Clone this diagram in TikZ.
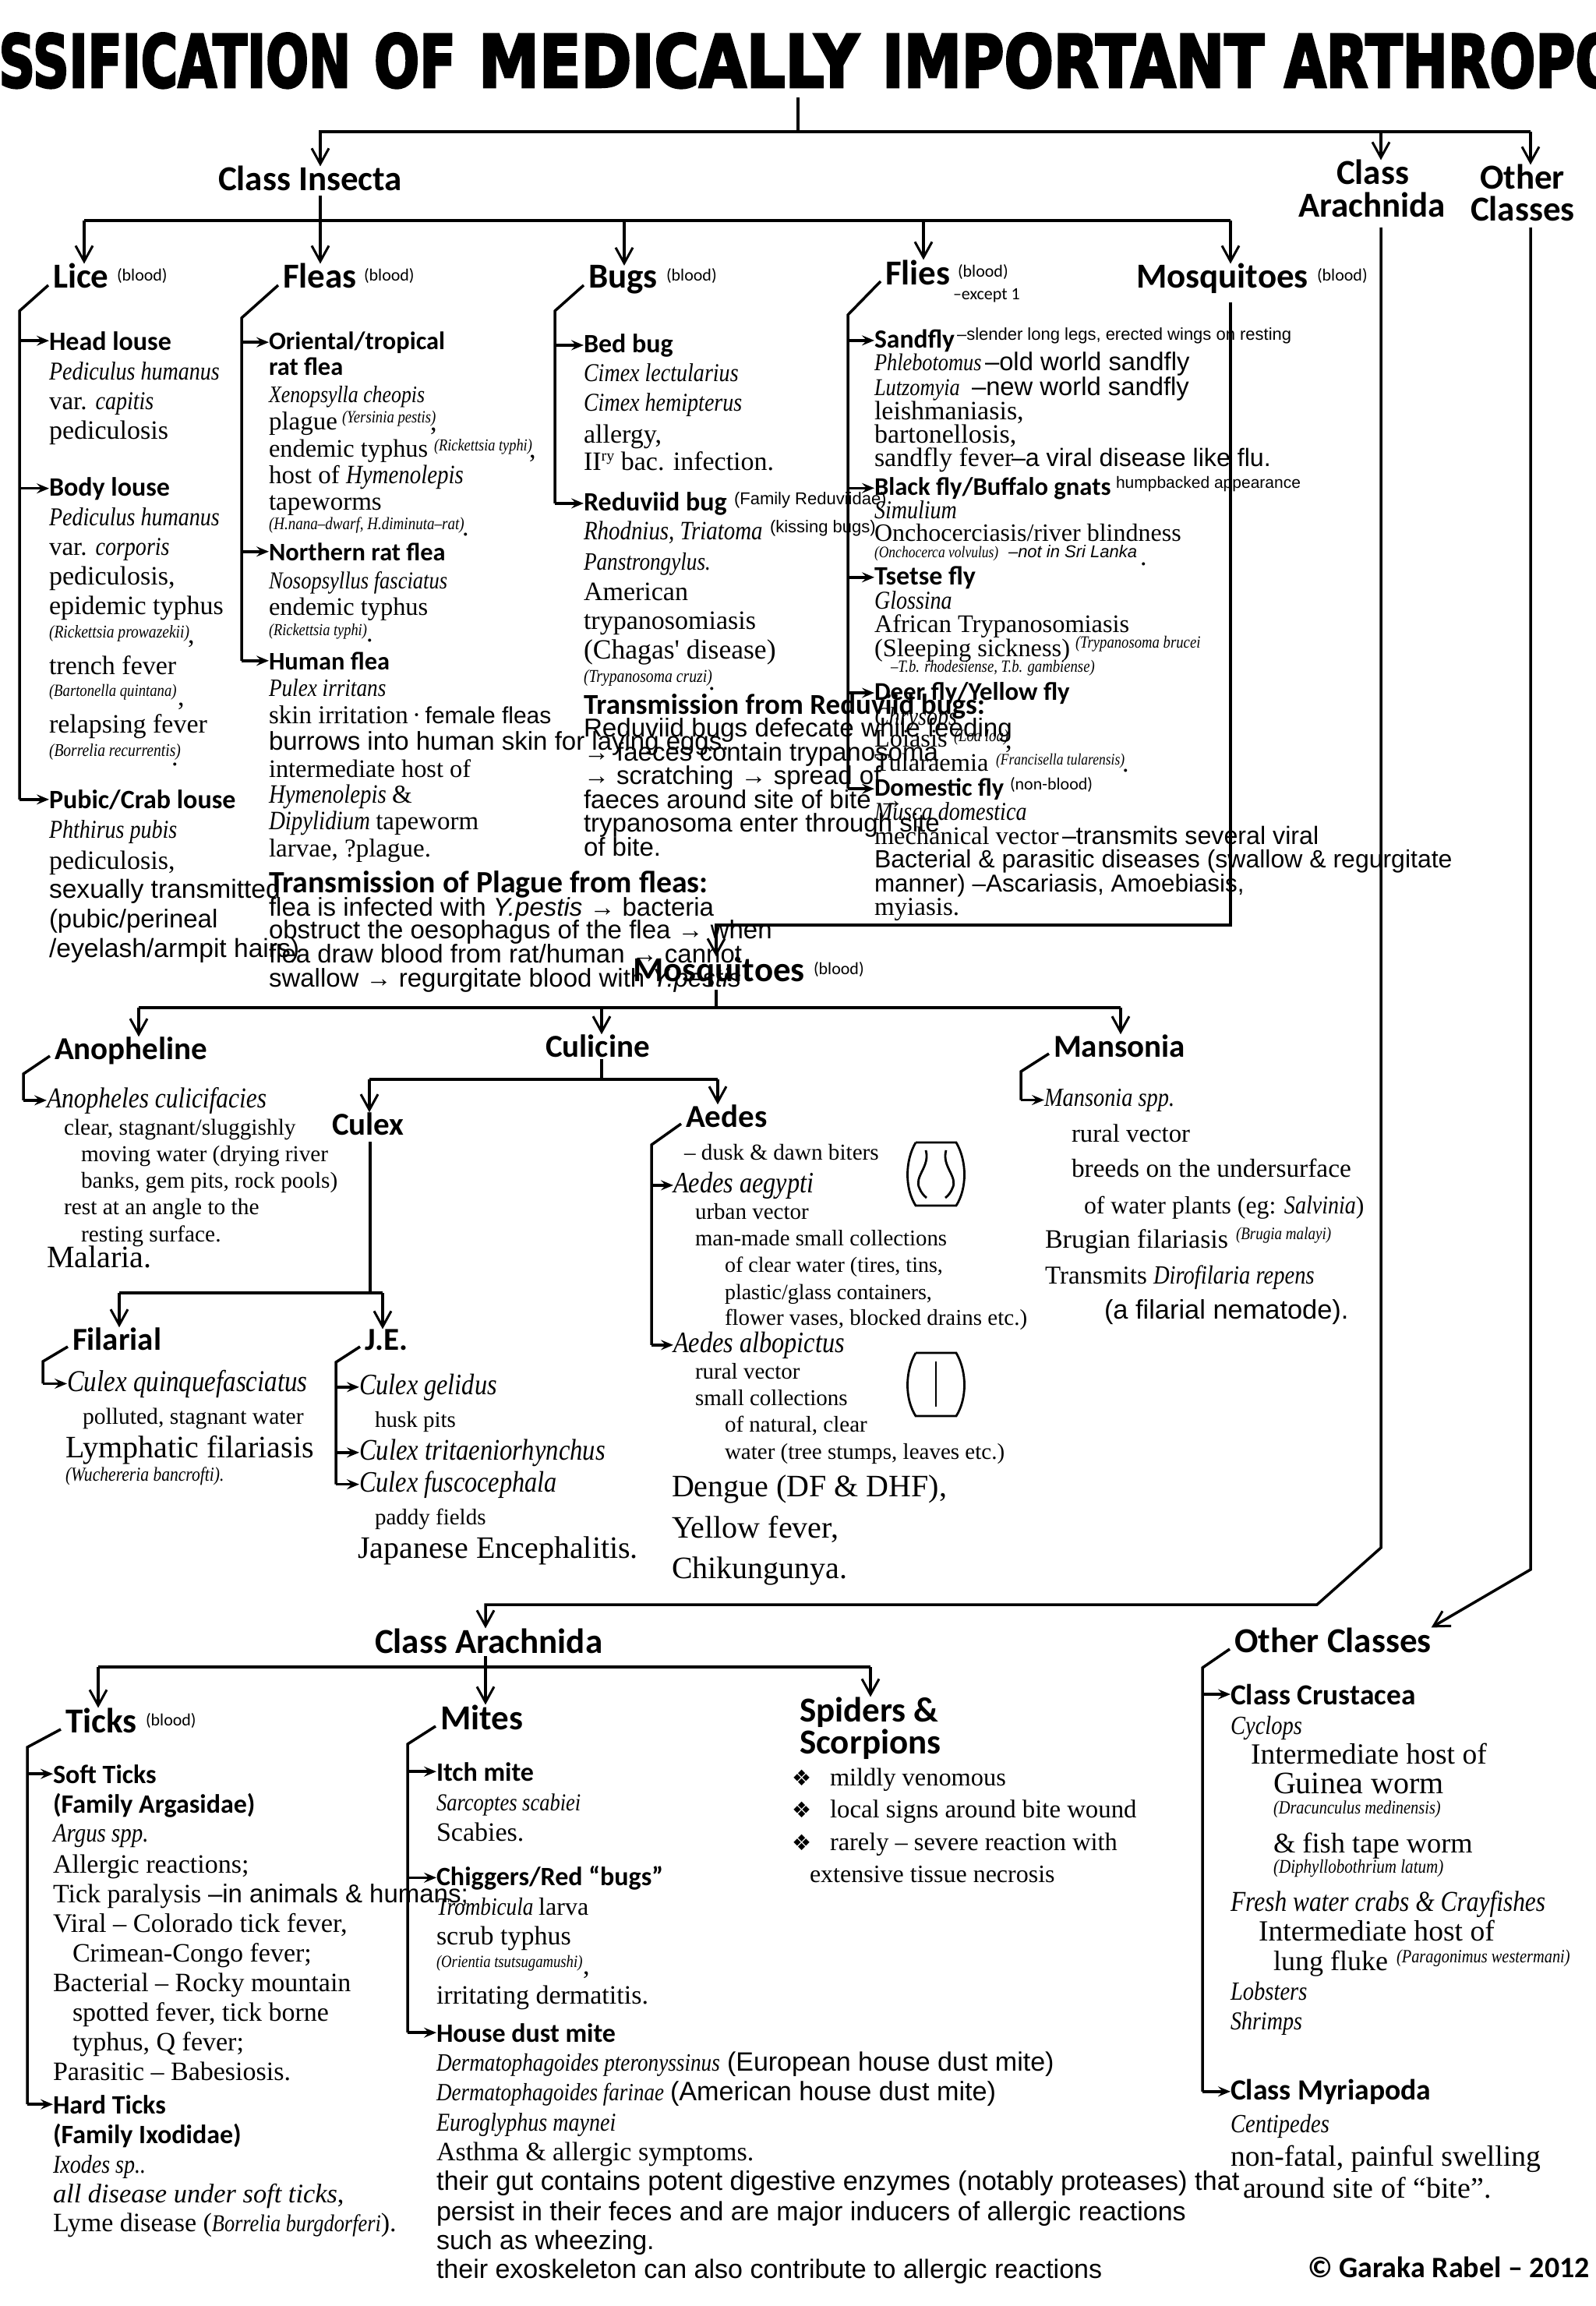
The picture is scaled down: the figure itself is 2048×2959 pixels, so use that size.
\documentclass[tikz,border=0pt]{standalone}
\usepackage{graphicx}
\usepackage{fontspec}
\usetikzlibrary{arrows.meta}
\setmainfont{Liberation Serif}
\newfontfamily\tmf{Liberation Serif}
\newfontfamily\gmf{Liberation Serif}[FakeStretch=.85]
\newfontfamily\saf{Liberation Sans}
\newfontfamily\cbf{Carlito}
\newfontfamily\dvf{DejaVu Sans}
\newfontfamily\ttlf{DejaVu Sans}[BoldFeatures={FakeBold=3.5}]
\newcommand\Tm[1]{\tmf\upshape\fontsize{#1}{#1}\selectfont}
\newcommand\Gi[1]{\gmf\itshape\fontsize{#1}{#1}\selectfont}
\newcommand\Sa[1]{\saf\upshape\fontsize{#1}{#1}\selectfont}
\newcommand\Cb[1]{\cbf\bfseries\upshape\fontsize{#1}{#1}\selectfont}
\newcommand\Cr[1]{\cbf\mdseries\upshape\fontsize{#1}{#1}\selectfont}
\newcommand\Ttl[2]{\resizebox{#1}{34.5pt}{\ttlf\bfseries #2}}
\newcount\tnum
\newcommand\tx[3]{\global\advance\tnum by 1 \node[txt] (t\the\tnum) at (#1,#2) {#3};}
\newcommand\nd[4]{\node[txt] (#1) at (#2,#3) {#4};}
\newcommand\branch[5]{%
  \draw[ln] ([shift={(-3pt,2pt)}]#1.base west) -- (#2,#3) -- (#2,0 |- #4.west);
  \foreach \i in {#5} {\draw[sarr] (#2,0 |- \i.west) -- (\i.west);}
}
\tikzset{
  txt/.style={anchor=base west,inner sep=0pt,outer sep=0pt},
  ttl/.style={anchor=south west,inner sep=0pt,outer sep=0pt},
  ln/.style={line width=1.75pt,line join=miter,black},
  arr/.style={ln,-{Straight Barb[length=10pt,width=11pt,line width=1.5pt]}},
  sarr/.style={ln,-{Stealth[length=8pt,width=6.5pt,inset=3pt]}},
  pict/.style={line width=1.4pt,black}
}
\begin{document}
\begin{tikzpicture}[x=0.5pt,y=-0.5pt]
\useasboundingbox (0,0) rectangle (2048,2959);
\clip (0,0) rectangle (2048,2959);
\node[ttl] (title1) at (-140,113) {\Ttl{295pt}{CLASSIFICATION}};
\node[ttl] (title2) at (480,113) {\Ttl{52.5pt}{OF}};
\node[ttl] (title3) at (614,113) {\Ttl{244pt}{MEDICALLY}};
\node[ttl] (title4) at (1132,113) {\Ttl{245pt}{IMPORTANT}};
\node[ttl] (title5) at (1648,113) {\Ttl{270pt}{ARTHROPODS}};
% upper headings
\nd{insecta}{280}{245}{\Cb{22.5}Class Insecta}
\nd{arach1}{1715}{237}{\Cb{22.5}Class}
\nd{arach1b}{1666}{279}{\Cb{22.5}Arachnida}
\nd{other1}{1899}{243}{\Cb{22.5}Other}
\nd{other1b}{1887}{284}{\Cb{22.5}Classes}
\nd{lice}{68}{370}{\Cb{22.5}Lice}
\tx{150}{361}{\Cr{11}(blood)}
\nd{fleas}{363}{370}{\Cb{22.5}Fleas}
\tx{467}{361}{\Cr{11}(blood)}
\nd{bugs}{755}{370}{\Cb{22.5}Bugs}
\tx{855}{361}{\Cr{11}(blood)}
\nd{flies}{1136}{365}{\Cb{22.5}Flies}
\tx{1229}{356}{\Cr{11}(blood)}
\tx{1223}{385}{\Cr{11}–except 1}
\nd{mosq}{1458}{370}{\Cb{22.5}Mosquitoes}
\tx{1690}{361}{\Cr{11}(blood)}
% Lice
\nd{head}{63}{449}{\Cb{17}Head louse}
\tx{63}{487}{\Gi{16.5}Pediculus humanus}
\tx{63}{525}{\Tm{16.5}var. \Gi{16.5}capitis}
\tx{63}{563}{\Tm{17}pediculosis}
\nd{body}{63}{636}{\Cb{17}Body louse}
\tx{63}{674}{\Gi{16.5}Pediculus humanus}
\tx{63}{712}{\Tm{16.5}var. \Gi{16.5}corporis}
\tx{63}{750}{\Tm{17}pediculosis,}
\tx{63}{788}{\Tm{17}epidemic typhus}
\tx{63}{818}{\Gi{11.5}(Rickettsia prowazekii)}
\tx{241}{825}{\Tm{17},}
\tx{63}{865}{\Tm{17}trench fever}
\tx{63}{893}{\Gi{11}(Bartonella quintana)}
\tx{228}{905}{\Tm{17},}
\tx{63}{940}{\Tm{17}relapsing fever}
\tx{63}{970}{\Gi{11.5}(Borrelia recurrentis)}
\tx{220}{982}{\Tm{17}.}
\nd{pubic}{63}{1037}{\Cb{17}Pubic/Crab louse}
\tx{63}{1075}{\Gi{16.5}Phthirus pubis}
\tx{63}{1115}{\Tm{17}pediculosis,}
\tx{63}{1152}{\Sa{16.8}sexually transmitted}
\tx{63}{1190}{\Sa{16.5}(pubic/perineal}
\tx{63}{1228}{\Sa{16.8}/eyelash/armpit hairs)}
% Fleas
\nd{orient}{345}{448}{\Cb{16.2}Oriental/tropical}
\tx{345}{481}{\Cb{16.2}rat flea}
\tx{345}{516}{\Gi{15.2}Xenopsylla cheopis}
\tx{345}{551}{\Tm{16.5}plague}
\tx{439}{542}{\Gi{11}(Yersinia pestis)}
\tx{552}{552}{\Tm{17},}
\tx{345}{586}{\Tm{16.2}endemic typhus}
\tx{557}{578}{\Gi{10.8}(Rickettsia typhi)}
\tx{679}{587}{\Tm{17},}
\tx{345}{620}{\Tm{16.5}host of \Gi{17}Hymenolepis}
\tx{345}{654}{\Tm{16.5}tapeworms}
\tx{345}{679}{\Gi{11.2}(H.nana–dwarf, H.diminuta–rat)}
\tx{593}{687}{\Tm{17}.}
\nd{north}{345}{719}{\Cb{16.2}Northern rat flea}
\tx{345}{755}{\Gi{15.6}Nosopsyllus fasciatus}
\tx{345}{789}{\Tm{16.2}endemic typhus}
\tx{345}{815}{\Gi{10.8}(Rickettsia typhi)}
\tx{470}{823}{\Tm{17}.}
\nd{human}{345}{859}{\Cb{16.2}Human flea}
\tx{345}{893}{\Gi{16}Pulex irritans}
\tx{345}{928}{\Tm{16.5}skin irritation\,·\,\Sa{15}female fleas}
\tx{345}{962}{\Sa{16.5}burrows into human skin for laying eggs.}
\tx{345}{997}{\Tm{16.2}intermediate host of}
\tx{345}{1030}{\Gi{17}Hymenolepis \Tm{16.5}\&}
\tx{345}{1064}{\Gi{17}Dipylidium \Tm{16.5}tapeworm}
\tx{345}{1099}{\Tm{16.5}larvae, ?plague.}
\tx{345}{1145}{\Cb{19.9}Transmission of Plague from fleas:}
\tx{345}{1175}{\Sa{16.5}flea is infected with \itshape Y.pestis \upshape → bacteria}
\tx{345}{1204}{\Sa{16.5}obstruct the oesophagus of the flea → when}
\tx{345}{1235}{\Sa{16.5}flea draw blood from rat/human → cannot}
\tx{345}{1266}{\Sa{16.5}swallow → regurgitate blood with \itshape Y.pestis}
% Bugs
\nd{bed}{749}{452}{\Cb{17}Bed bug}
\tx{749}{489}{\Gi{16.5}Cimex lectularius}
\tx{749}{527}{\Gi{16.5}Cimex hemipterus}
\tx{749}{568}{\Tm{17}allergy,}
\tx{749}{603}{\Tm{17}II\raisebox{6pt}{\Tm{10}ry} bac. infection.}
\nd{redu}{749}{655}{\Cb{17}Reduviid bug}
\tx{942}{647}{\Sa{11}(Family Reduviidae)}
\tx{749}{692}{\Gi{17}Rhodnius, Triatoma}
\tx{988}{683}{\Sa{11}(kissing bugs)}
\tx{749}{731}{\Gi{16}Panstrongylus.}
\tx{749}{770}{\Tm{17}American}
\tx{749}{807}{\Tm{17}trypanosomiasis}
\tx{749}{845}{\Tm{17.8}(Chagas' disease)}
\tx{749}{875}{\Gi{11.6}(Trypanosoma cruzi)}
\tx{909}{885}{\Tm{17}.}
\tx{749}{916}{\Cb{18.5}Transmission from Reduviid bugs:}
\tx{749}{945}{\Sa{16.6}Reduviid bugs defecate while feeding}
\tx{749}{976}{\Sa{16.5}→ faeces contain trypanosoma}
\tx{749}{1006}{\Sa{16.5}→ scratching → spread of}
\tx{749}{1037}{\Sa{16.5}faeces around site of bite →}
\tx{749}{1067}{\Sa{16.5}trypanosoma enter through site}
\tx{749}{1098}{\Sa{16.5}of bite.}
% Flies
\nd{sand}{1122}{446}{\Cb{16.8}Sandfly}
\tx{1228}{437}{\Sa{11}–slender long legs, erected wings on resting}
\tx{1122}{475}{\Gi{15.5}Phlebotomus}
\tx{1264}{475}{\Sa{16.4}–old world sandfly}
\tx{1122}{507}{\Gi{15.5}Lutzomyia}
\tx{1247}{507}{\Sa{16.4}–new world sandfly}
\tx{1122}{538}{\Tm{17}leishmaniasis,}
\tx{1122}{568}{\Tm{17}bartonellosis,}
\tx{1122}{598}{\Tm{17}sandfly fever}
\tx{1298}{598}{\Sa{16.1}–a viral disease like flu.}
\nd{black}{1122}{635}{\Cb{16.3}Black fly/Buffalo gnats}
\tx{1432}{626}{\Sa{10.5}humpbacked appearance}
\tx{1122}{665}{\Gi{16.5}Simulium}
\tx{1122}{694}{\Tm{16}Onchocerciasis/river blindness}
\tx{1122}{715}{\Gi{10.3}(Onchocerca volvulus)}
\tx{1294}{715}{\Sa{11}\itshape –not in Sri Lanka}
\tx{1463}{725}{\Tm{17}.}
\nd{tsetse}{1122}{750}{\Cb{17}Tsetse fly}
\tx{1122}{781}{\Gi{16.5}Glossina}
\tx{1122}{811}{\Tm{16.2}African Trypanosomiasis}
\tx{1122}{842}{\Tm{16.2}(Sleeping sickness)}
\tx{1380}{831}{\Gi{11}(Trypanosoma brucei}
\tx{1143}{862}{\Gi{11}–T.b. rhodesiense, T.b. gambiense)}
\nd{deer}{1122}{898}{\Cb{16.4}Deer fly/Yellow fly}
\tx{1122}{930}{\Gi{16.5}Chrysops}
\tx{1122}{958}{\Tm{16.2}Loiasis}
\tx{1224}{951}{\Gi{11}(Loa loa)}
\tx{1290}{960}{\Tm{17},}
\tx{1122}{989}{\Tm{16.2}Tularaemia}
\tx{1278}{981}{\Gi{10.3}(Francisella tularensis)}
\tx{1440}{990}{\Tm{17}.}
\nd{domes}{1122}{1021}{\Cb{16.2}Domestic fly}
\tx{1296}{1013}{\Cr{11}(non-blood)}
\tx{1122}{1052}{\Gi{16.5}Musca domestica}
\tx{1122}{1083}{\Tm{16.2}mechanical vector}
\tx{1363}{1083}{\Sa{16.1}–transmits several viral}
\tx{1122}{1113}{\Sa{16}Bacterial \& parasitic diseases (swallow \& regurgitate}
\tx{1122}{1144}{\Sa{15.7}manner) –Ascariasis, Amoebiasis,}
\tx{1122}{1174}{\Tm{16.5}myiasis.}
% Mosquitoes section
\nd{mosqb}{812}{1259}{\Cb{22.5}Mosquitoes}
\tx{1044}{1250}{\Cr{11}(blood)}
\nd{anoph}{70}{1359}{\Cb{20.5}Anopheline}
\nd{culicine}{700}{1356}{\Cb{20.5}Culicine}
\nd{mans}{1352}{1356}{\Cb{20.5}Mansonia}
\nd{anspec}{60}{1421}{\Gi{18.5}Anopheles culicifacies}
\tx{82}{1456}{\Tm{14.7}clear, stagnant/sluggishly}
\tx{104}{1490}{\Tm{14.6}moving water (drying river}
\tx{104}{1524}{\Tm{14.6}banks, gem pits, rock pools)}
\tx{82}{1558}{\Tm{14.7}rest at an angle to the}
\tx{104}{1593}{\Tm{14.7}resting surface.}
\tx{60}{1626}{\Tm{20}Malaria.}
\nd{culex}{426}{1456}{\Cb{20.5}Culex}
\nd{aedes}{880}{1446}{\Cb{20.5}Aedes}
\tx{878}{1488}{\Tm{14.6}– dusk \& dawn biters}
\nd{aeg}{864}{1530}{\Gi{19}Aedes aegypti}
\tx{892}{1564}{\Tm{14.5}urban vector}
\tx{892}{1598}{\Tm{14.4}man-made small collections}
\tx{930}{1632}{\Tm{14}of clear water (tires, tins,}
\tx{930}{1667}{\Tm{14}plastic/glass containers,}
\tx{930}{1700}{\Tm{14.5}flower vases, blocked drains etc.)}
\nd{albo}{864}{1735}{\Gi{19}Aedes albopictus}
\tx{892}{1769}{\Tm{14.5}rural vector}
\tx{892}{1803}{\Tm{14.5}small collections}
\tx{930}{1837}{\Tm{14.5}of natural, clear}
\tx{930}{1872}{\Tm{14.5}water (tree stumps, leaves etc.)}
\tx{862}{1920}{\Tm{20}Dengue (DF \& DHF),}
\tx{862}{1973}{\Tm{20}Yellow fever,}
\tx{862}{2025}{\Tm{20}Chikungunya.}
\nd{mspec}{1340}{1419}{\Gi{16.7}Mansonia spp.}
\tx{1375}{1465}{\Tm{16.4}rural vector}
\tx{1375}{1510}{\Tm{16.7}breeds on the undersurface}
\tx{1391}{1557}{\Tm{15.9}of water plants (eg: \Gi{16.5}Salvinia\Tm{15.9})}
\tx{1341}{1601}{\Tm{17}Brugian filariasis}
\tx{1586}{1590}{\Gi{11.2}(Brugia malayi)}
\tx{1341}{1647}{\Tm{16.5}Transmits \Gi{16.8}Dirofilaria repens}
\tx{1417}{1692}{\Sa{17.2}(a filarial nematode).}
\nd{filar}{93}{1732}{\Cb{20.5}Filarial}
\nd{je}{468}{1732}{\Cb{20.5}J.E.}
\nd{quin}{86}{1785}{\Gi{19.4}Culex quinquefasciatus}
\tx{106}{1827}{\Tm{14.8}polluted, stagnant water}
\tx{84}{1870}{\Tm{20}Lymphatic filariasis}
\tx{84}{1900}{\Gi{12.7}(Wuchereria bancrofti).}
\nd{geli}{461}{1789}{\Gi{19}Culex gelidus}
\tx{481}{1831}{\Tm{14.5}husk pits}
\nd{trit}{461}{1873}{\Gi{19.2}Culex tritaeniorhynchus}
\nd{fusc}{461}{1914}{\Gi{19}Culex fuscocephala}
\tx{481}{1956}{\Tm{14.5}paddy fields}
\tx{459}{1999}{\Tm{20}Japanese Encephalitis.}
% Arachnida
\nd{arach}{481}{2121}{\Cb{22.5}Class Arachnida}
\nd{ticks}{84}{2223}{\Cb{22.5}Ticks}
\tx{187}{2214}{\Cr{11}(blood)}
\nd{soft}{68}{2288}{\Cb{17}Soft Ticks}
\tx{68}{2326}{\Cb{17}(Family Argasidae)}
\tx{68}{2363}{\Gi{17}Argus spp.}
\tx{68}{2403}{\Tm{17}Allergic reactions;}
\tx{68}{2441}{\Tm{17}Tick paralysis}
\tx{267}{2441}{\Sa{16.5}–in animals \& humans;}
\tx{68}{2479}{\Tm{17.2}Viral – Colorado tick fever,}
\tx{93}{2517}{\Tm{17}Crimean-Congo fever;}
\tx{68}{2555}{\Tm{17}Bacterial – Rocky mountain}
\tx{93}{2593}{\Tm{17}spotted fever, tick borne}
\tx{93}{2631}{\Tm{17}typhus, Q fever;}
\tx{68}{2669}{\Tm{17}Parasitic – Babesiosis.}
\nd{hard}{68}{2712}{\Cb{17}Hard Ticks}
\tx{68}{2750}{\Cb{17}(Family Ixodidae)}
\tx{68}{2788}{\Gi{16.5}Ixodes sp..}
\tx{68}{2826}{\Tm{17.2}\itshape all disease under soft ticks\upshape,}
\tx{68}{2863}{\Tm{17}Lyme disease (\Gi{15.5}Borrelia burgdorferi\Tm{17}).}
\nd{mites}{565}{2219}{\Cb{22.5}Mites}
\nd{itch}{560}{2285}{\Cb{17}Itch mite}
\tx{560}{2323}{\Gi{15.6}Sarcoptes scabiei}
\tx{560}{2362}{\Tm{17}Scabies.}
\nd{chig}{560}{2419}{\Cb{17}Chiggers/Red “bugs”}
\tx{560}{2457}{\Gi{16}Trombicula \Tm{16}larva}
\tx{560}{2495}{\Tm{17}scrub typhus}
\tx{560}{2524}{\Gi{11}(Orientia tsutsugamushi)}
\tx{748}{2533}{\Tm{17},}
\tx{560}{2571}{\Tm{17}irritating dermatitis.}
\nd{hdm}{560}{2620}{\Cb{17}House dust mite}
\tx{560}{2657}{\Gi{16}Dermatophagoides pteronyssinus}
\tx{933}{2657}{\Sa{17}(European house dust mite)}
\tx{560}{2695}{\Gi{15.9}Dermatophagoides farinae}
\tx{860}{2695}{\Sa{17.1}(American house dust mite)}
\tx{560}{2734}{\Gi{16.5}Euroglyphus maynei}
\tx{560}{2772}{\Tm{17}Asthma \& allergic symptoms.}
\tx{560}{2810}{\Sa{17.2}their gut contains potent digestive enzymes (notably proteases) that}
\tx{560}{2849}{\Sa{17}persist in their feces and are major inducers of allergic reactions}
\tx{560}{2886}{\Sa{17}such as wheezing.}
\tx{560}{2923}{\Sa{17}their exoskeleton can also contribute to allergic reactions}
\nd{spid}{1026}{2209}{\Cb{22.5}Spiders \&}
\tx{1026}{2250}{\Cb{22.5}Scorpions}
\tx{1016}{2291}{\dvf\fontsize{14}{14}\selectfont ❖}
\tx{1065}{2291}{\Tm{16.2}mildly venomous}
\tx{1016}{2332}{\dvf\fontsize{14}{14}\selectfont ❖}
\tx{1065}{2332}{\Tm{16.4}local signs around bite wound}
\tx{1016}{2374}{\dvf\fontsize{14}{14}\selectfont ❖}
\tx{1065}{2374}{\Tm{16.2}rarely – severe reaction with}
\tx{1039}{2415}{\Tm{16}extensive tissue necrosis}
% Other classes
\nd{otherh}{1584}{2120}{\Cb{22.5}Other Classes}
\nd{crust}{1579}{2187}{\Cb{18.7}Class Crustacea}
\tx{1579}{2225}{\Gi{16.8}Cyclops}
\tx{1605}{2263}{\Tm{18.8}Intermediate host of}
\tx{1634}{2301}{\Tm{20}Guinea worm}
\tx{1634}{2327}{\Gi{12}(Dracunculus medinensis)}
\tx{1634}{2377}{\Tm{18.2}\& fish tape worm}
\tx{1634}{2403}{\Gi{12.4}(Diphyllobothrium latum)}
\tx{1579}{2452}{\Gi{18.5}Fresh water crabs \& Crayfishes}
\tx{1615}{2490}{\Tm{18.8}Intermediate host of}
\tx{1634}{2528}{\Tm{18}lung fluke}
\tx{1792}{2518}{\Gi{12}(Paragonimus westermani)}
\tx{1579}{2566}{\Gi{16.8}Lobsters}
\tx{1579}{2604}{\Gi{16.5}Shrimps}
\nd{myria}{1579}{2694}{\Cb{18.8}Class Myriapoda}
\tx{1579}{2736}{\Gi{16.8}Centipedes}
\tx{1579}{2779}{\Tm{18.8}non-fatal, painful swelling}
\tx{1595}{2820}{\Tm{19}around site of “bite”.}
\tx{1678}{2922}{\Cb{19}© Garaka Rabel – 2012}
% connectors: top
\coordinate (ttop) at (1024,125);
\coordinate (tj) at (1024,169);
\draw[ln] (ttop) -- (tj);
\draw[arr] (tj) -- (411,169) -- (411,0 |- insecta.north);
\draw[ln] (tj) -- (1964,169);
\draw[arr] (1772,169) -- (1772,0 |- arach1.north);
\draw[arr] (1964,169) -- (1964,0 |- other1.north);
% Insecta
\draw[arr] (411,251) -- (411,0 |- fleas.north);
\draw[ln] (108,283) -- (1579,283);
\draw[arr] (108,283) -- (108,0 |- lice.north);
\draw[arr] (801,283) -- (801,0 |- bugs.north);
\draw[arr] (1185,283) -- (1185,0 |- flies.north);
\draw[arr] (1579,283) -- (1579,0 |- mosq.north);
% branches
\branch{lice}{25}{399}{pubic}{head,body,pubic}
\branch{fleas}{310}{408}{human}{orient,north,human}
\branch{bugs}{712}{399}{redu}{bed,redu}
\branch{flies}{1088}{404}{domes}{sand,black,tsetse,deer,domes}
% Mosquitoes link
\draw[arr] (1579,388) -- (1579,1187) -- (919,1187) -- (919,0 |- mosqb.north);
\draw[ln] (919,1270) -- (919,1293);
\draw[ln] (178,1293) -- (1438,1293);
\draw[arr] (178,1293) -- (178,0 |- anoph.north);
\draw[arr] (772,1293) -- (772,0 |- culicine.north);
\draw[arr] (1438,1293) -- (1438,0 |- mans.north);
\branch{anoph}{30}{1378}{anspec}{anspec}
\branch{mans}{1310}{1375}{mspec}{mspec}
\draw[ln] (772,1359) -- (772,1387);
\draw[ln] (474,1385) -- (921,1385);
\draw[arr] (474,1385) -- (474,0 |- culex.north);
\draw[arr] (921,1385) -- (921,0 |- aedes.north);
\branch{aedes}{836}{1469}{albo}{aeg,albo}
\draw[ln] (475,1465) -- (475,1659);
\draw[ln] (153,1659) -- (491,1659);
\draw[arr] (153,1659) -- (153,0 |- filar.north);
\draw[arr] (491,1659) -- (491,0 |- je.north);
\branch{filar}{55}{1747}{quin}{quin}
\branch{je}{431}{1748}{fusc}{geli,trit,fusc}
% Arachnida long connector
\draw[arr] (1772,292) -- (1772,1986) -- (1690,2059) -- (623,2059) -- (623,0 |- arach.north);
\draw[arr] (1964,292) -- (1964,2014) -- (otherh.north east);
\draw[arr] (623,2125) -- (623,0 |- mites.north);
\draw[ln] (126,2139) -- (1117,2139);
\draw[arr] (126,2139) -- (126,0 |- ticks.north);
\draw[arr] (1117,2139) -- (1117,0 |- spid.north);
\branch{ticks}{35}{2242}{hard}{soft,hard}
\branch{mites}{523}{2238}{hdm}{itch,chig,hdm}
\branch{otherh}{1543}{2140}{myria}{crust,myria}
% pictograms
\draw[pict] (1175,1466) -- (1227,1466) .. controls (1241,1490) and (1241,1525) .. (1227,1547) -- (1175,1547) .. controls (1161,1525) and (1161,1490) .. (1175,1466);
\draw[pict] (1188,1476) .. controls (1194,1497) and (1172,1510) .. (1180,1525) .. controls (1182,1530) and (1185,1534) .. (1189,1537);
\draw[pict] (1214,1476) .. controls (1208,1497) and (1230,1510) .. (1222,1525) .. controls (1220,1530) and (1217,1534) .. (1213,1537);
\draw[pict] (1175,1736) -- (1227,1736) .. controls (1241,1760) and (1241,1795) .. (1227,1817) -- (1175,1817) .. controls (1161,1795) and (1161,1760) .. (1175,1736);
\draw[pict] (1201,1747) -- (1201,1805);
\end{tikzpicture}
\end{document}
